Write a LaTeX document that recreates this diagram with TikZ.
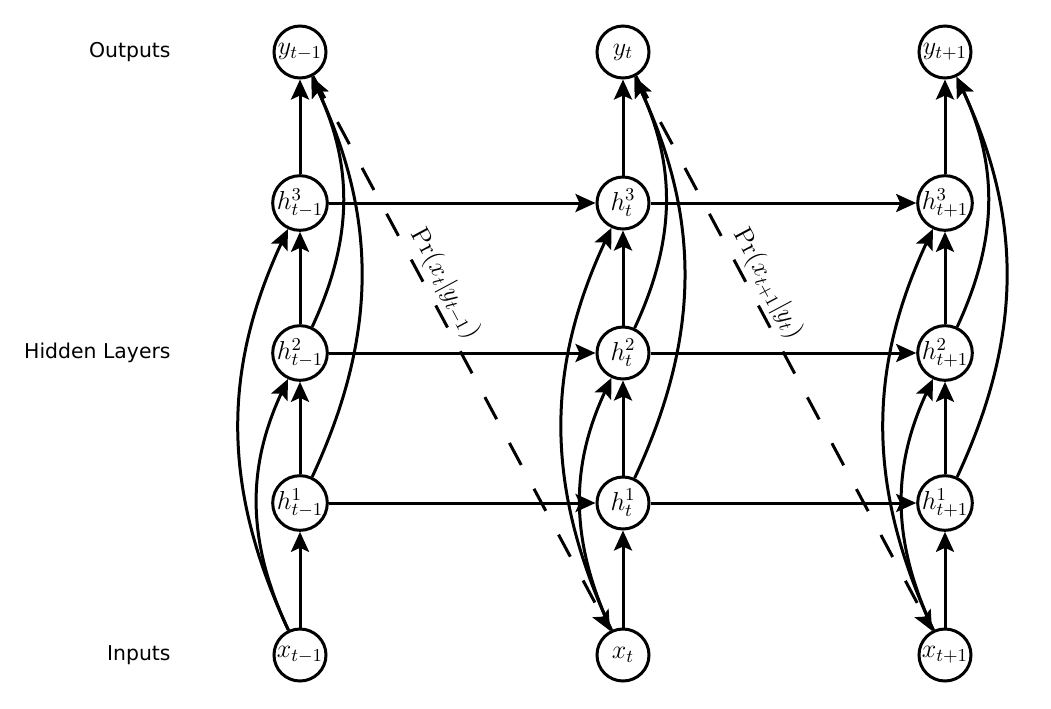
\RequirePackage{fix-cm}
\documentclass[tikz,border=0pt]{standalone}
\usepackage{fontspec}
\newfontfamily\labelfont{DejaVu Sans}
\usetikzlibrary{arrows.meta}
\begin{document}
\begin{tikzpicture}[x=0.5pt,y=-0.5pt,
  unit/.style={circle, draw, line width=1.5pt, minimum size=26pt, inner sep=0pt,
    font=\fontsize{13}{15}\selectfont},
  arr/.style={line width=1.5pt, -{Stealth[length=10pt,width=9pt,inset=2pt]}},
  rowlabel/.style={anchor=east, inner sep=0pt, font=\labelfont\fontsize{10.2}{12}\selectfont},
  prob/.style={dash pattern=on 12.5pt off 13.5pt},
  problabel/.style={sloped, above, inner sep=2pt, font=\fontsize{13}{15}\selectfont}]
\useasboundingbox (0,0) rectangle (1051,708);
% row labels
\node[rowlabel] (lo) at (171,52) {Outputs};
\node[rowlabel] (lh) at (171,353) {Hidden Layers};
\node[rowlabel] (li) at (171,655) {Inputs};
% units
\foreach \c/\xx/\s in {A/300/{t-1}, B/623/t, C/945/{t+1}}{
  \node[unit] (y\c)  at (\xx,52)  {$y_{\s}$};
  \node[unit] (hc\c) at (\xx,203) {$h^3_{\s}$};
  \node[unit] (hb\c) at (\xx,353) {$h^2_{\s}$};
  \node[unit] (ha\c) at (\xx,503) {$h^1_{\s}$};
  \node[unit] (x\c)  at (\xx,655) {$x_{\s}$};
}
% connections within a time step
\foreach \c in {A,B,C}{
  \draw[arr] (x\c) -- (ha\c);
  \draw[arr] (ha\c) -- (hb\c);
  \draw[arr] (hb\c) -- (hc\c);
  \draw[arr] (hc\c) -- (y\c);
  \draw[arr] (x\c) to[bend left=25] (hb\c);
  \draw[arr] (x\c) to[bend left=25] (hc\c);
  \draw[arr] (ha\c) to[bend right=25] (y\c);
  \draw[arr] (hb\c) to[bend right=25] (y\c);
}
% recurrent connections
\foreach \l in {a,b,c}{
  \draw[arr] (h\l A) -- (h\l B);
  \draw[arr] (h\l B) -- (h\l C);
}
% predictive distributions
\draw[arr, prob] (yA) -- node[problabel, pos=0.39] {$\Pr(x_t|y_{t-1})$} (xB);
\draw[arr, prob] (yB) -- node[problabel, pos=0.39] {$\Pr(x_{t+1}|y_t)$} (xC);
\end{tikzpicture}
\end{document}
